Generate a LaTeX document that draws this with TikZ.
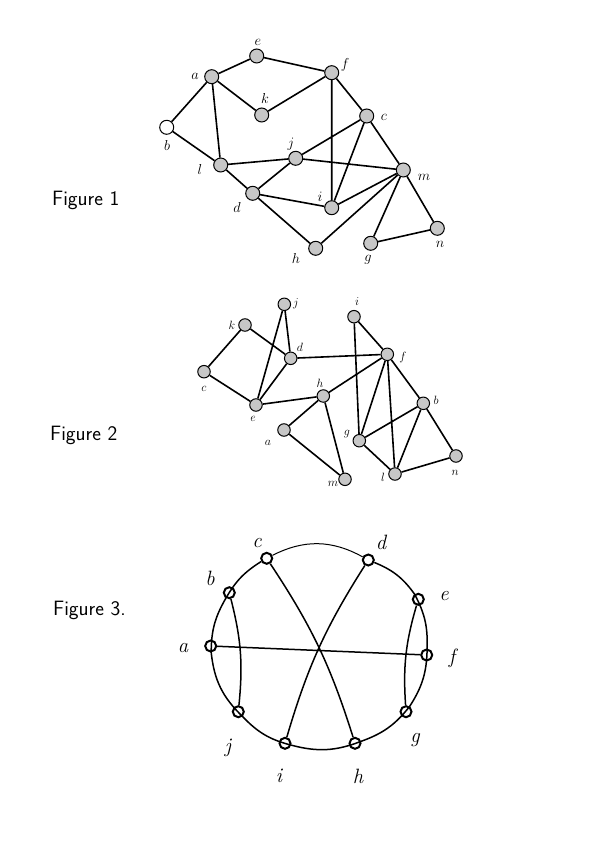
\documentclass[tikz,border=0pt]{standalone}
\usepackage{tikz}
\usetikzlibrary{positioning}

\begin{document}
\begin{tikzpicture}[x=1pt, y=1pt,
  vtx/.style={circle, draw, fill=black!22, line width=1pt, minimum size=14pt, inner sep=0pt},
  wvtx/.style={vtx, fill=white},
  svtx/.style={vtx, minimum size=12.5pt},
  hvtx/.style={circle, draw, fill=white, line width=2pt, minimum size=11pt, inner sep=0pt},
  edge/.style={line width=1.6pt},
  hedge/.style={line width=1.5pt},
  lbl/.style={font=\Large, inner sep=0pt},
  slbl/.style={font=\large, inner sep=0pt},
  hlbl/.style={font=\huge\itshape, inner sep=0pt},
  title/.style={font=\huge\sffamily, anchor=west, inner sep=0pt}
]
  \useasboundingbox (0,0) rectangle (591,-842);

  % Figure 1
  \node[title] (t1) at (52,-200) {Figure 1};
  \node[vtx] (e1) at (256.7,-56) {};
  \node[vtx] (a1) at (211.7,-76.7) {};
  \node[vtx] (f1) at (331.7,-72.7) {};
  \node[vtx] (k1) at (261.7,-115) {};
  \node[vtx] (c1) at (366.7,-116) {};
  \node[wvtx] (b1) at (166.7,-127.3) {};
  \node[vtx] (j1) at (295.7,-158.3) {};
  \node[vtx] (l1) at (220.7,-165) {};
  \node[vtx] (m1) at (403.3,-170) {};
  \node[vtx] (d1) at (252.7,-193.3) {};
  \node[vtx] (i1) at (331.7,-207.7) {};
  \node[vtx] (h1) at (315.7,-248.3) {};
  \node[vtx] (n1) at (437.3,-228.3) {};
  \node[vtx] (g1) at (370.7,-243.3) {};

  \node[lbl] (le1) at (258,-42) {$e$};
  \node[lbl] (la1) at (195,-76) {$a$};
  \node[lbl] (lf1) at (345,-65) {$f$};
  \node[lbl] (lk1) at (265,-99) {$k$};
  \node[lbl] (lc1) at (384,-117) {$c$};
  \node[lbl] (lb1) at (167,-146) {$b$};
  \node[lbl] (lj1) at (291,-144) {$j$};
  \node[lbl] (ll1) at (200,-170) {$l$};
  \node[lbl] (lm1) at (424,-177) {$m$};
  \node[lbl] (ld1) at (237,-208) {$d$};
  \node[lbl] (li1) at (320,-197) {$i$};
  \node[lbl] (lh1) at (296,-258) {$h$};
  \node[lbl] (ln1) at (440,-244) {$n$};
  \node[lbl] (lg1) at (368,-260) {$g$};

  \draw[edge] (a1) -- (e1) -- (f1) -- (k1) -- (a1) -- (b1) -- (l1) -- (a1);
  \draw[edge] (f1) -- (c1) -- (j1) -- (l1) -- (d1) -- (j1) -- (m1) -- (c1) -- (i1) -- (f1);
  \draw[edge] (d1) -- (i1) -- (m1) -- (h1) -- (d1);
  \draw[edge] (m1) -- (g1) -- (n1) -- (m1);

  % Figure 2
  \node[title] (t2) at (50,-435) {Figure 2};
  \node[svtx] (j2) at (284.3,-304.3) {};
  \node[svtx] (i2) at (354,-316.7) {};
  \node[svtx] (k2) at (245,-325) {};
  \node[svtx] (d2) at (290.7,-358.3) {};
  \node[svtx] (f2) at (387.3,-354.3) {};
  \node[svtx] (c2) at (204,-371.7) {};
  \node[svtx] (h2) at (323.3,-396) {};
  \node[svtx] (b2) at (423.3,-403.3) {};
  \node[svtx] (e2) at (256,-405) {};
  \node[svtx] (a2) at (284,-430) {};
  \node[svtx] (g2) at (359.3,-440.7) {};
  \node[svtx] (n2) at (456,-456) {};
  \node[svtx] (l2) at (395,-474) {};
  \node[svtx] (m2) at (345,-479.3) {};

  \node[slbl] (lj2) at (296,-304) {$j$};
  \node[slbl] (li2) at (357,-302) {$i$};
  \node[slbl] (lk2) at (232,-325) {$k$};
  \node[slbl] (ld2) at (300,-347) {$d$};
  \node[slbl] (lf2) at (403,-357) {$f$};
  \node[slbl] (lc2) at (204,-389) {$c$};
  \node[slbl] (lh2) at (320,-383) {$h$};
  \node[slbl] (lb2) at (436,-400) {$b$};
  \node[slbl] (le2) at (253,-419) {$e$};
  \node[slbl] (la2) at (268,-443) {$a$};
  \node[slbl] (lg2) at (347,-434) {$g$};
  \node[slbl] (ln2) at (455,-473) {$n$};
  \node[slbl] (ll2) at (383,-477) {$l$};
  \node[slbl] (lm2) at (333,-484) {$m$};

  \draw[edge] (d2) -- (k2) -- (c2) -- (e2) -- (j2) -- (d2) -- (e2) -- (h2) -- (f2) -- (d2);
  \draw[edge] (m2) -- (h2) -- (a2) -- (m2);
  \draw[edge] (i2) -- (f2) -- (g2) -- (i2);
  \draw[edge] (f2) -- (l2) -- (g2) -- (b2) -- (f2);
  \draw[edge] (b2) -- (l2) -- (n2) -- (b2);

  % Figure 3
  \node[title] (t3) at (53,-610) {Figure 3.};
  \node[hvtx] (c3) at (266.7,-558.3) {};
  \node[hvtx] (d3) at (368.3,-560) {};
  \node[hvtx] (b3) at (229.3,-592.7) {};
  \node[hvtx] (e3) at (418.3,-599.3) {};
  \node[hvtx] (a3) at (210.7,-646) {};
  \node[hvtx] (f3) at (426.7,-655) {};
  \node[hvtx] (j3) at (238.3,-711.7) {};
  \node[hvtx] (g3) at (406,-711.7) {};
  \node[hvtx] (i3) at (285,-743.3) {};
  \node[hvtx] (h3) at (355,-743.3) {};

  \node[hlbl] (lc3) at (257,-543) {c};
  \node[hlbl] (ld3) at (381,-542) {d};
  \node[hlbl] (lb3) at (210,-578) {b};
  \node[hlbl] (le3) at (444,-596) {e};
  \node[hlbl] (la3) at (183,-648) {a};
  \node[hlbl] (lf3) at (452,-658) {f};
  \node[hlbl] (lj3) at (228,-748) {j};
  \node[hlbl] (lg3) at (415,-740) {g};
  \node[hlbl] (li3) at (279,-776) {i};
  \node[hlbl] (lh3) at (358,-776) {h};

  \draw[hedge, line width=1pt] (c3) to[bend left=28] (d3);
  \draw[hedge] (d3) to[bend left=16] (e3) to[bend left=15] (f3) to[bend left=16] (g3)
    to[bend left=16] (h3) to[bend left=18] (i3) to[bend left=16] (j3)
    to[bend left=20] (a3) to[bend left=15] (b3) to[bend left=14] (c3);
  \draw[hedge] (b3) to[bend left=10] (j3);
  \draw[hedge] (e3) to[bend right=10] (g3);
  \draw[hedge] (a3) -- (f3);
  \draw[hedge] (c3) to[bend left=8] (h3);
  \draw[hedge] (d3) to[bend right=8] (i3);
\end{tikzpicture}
\end{document}
